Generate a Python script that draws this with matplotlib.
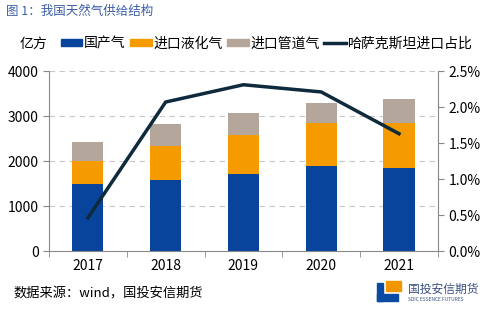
import matplotlib
matplotlib.use("Agg")
import matplotlib.pyplot as plt
from matplotlib.patches import Rectangle, Patch
from matplotlib.lines import Line2D
from matplotlib.ticker import FuncFormatter

plt.rcParams['font.family'] = ['Noto Sans CJK SC', 'DejaVu Sans']

years = ['2017', '2018', '2019', '2020', '2021']
domestic = [1480, 1580, 1720, 1895, 1845]
lng = [520, 760, 850, 945, 1005]
pipeline = [420, 490, 495, 460, 530]
kz_share = [0.46, 2.07, 2.31, 2.21, 1.63]

c_dom = '#08449c'
c_lng = '#f59b00'
c_pipe = '#b4a69b'
c_line = '#0e2a3c'

fig = plt.figure(figsize=(4.97, 3.29), dpi=100)
ax = fig.add_axes([0.0986, 0.237, 0.7824, 0.547])
x = list(range(len(years)))
b1 = [d + l for d, l in zip(domestic, lng)]
ax.bar(x, domestic, width=0.4, color=c_dom, zorder=2)
ax.bar(x, lng, width=0.4, bottom=domestic, color=c_lng, zorder=2)
ax.bar(x, pipeline, width=0.4, bottom=b1, color=c_pipe, zorder=2)

ax.set_xlim(-0.5, 4.5)
ax.set_ylim(0, 4000)
ax.set_yticks([0, 1000, 2000, 3000, 4000])
ax.set_xticks(x)
ax.set_xticklabels(years)
ax.set_xticks([i - 0.5 for i in range(6)], minor=True)
ax.tick_params(axis='x', which='major', length=0, labelsize=10, pad=6)
ax.tick_params(axis='x', which='minor', length=4, color='#888888')
ax.tick_params(axis='y', length=4, color='#888888', labelsize=10)
for y in [1000, 2000, 3000, 4000]:
    ax.axhline(y, color='#c8c8c8', lw=0.8, ls=(0, (5, 4)), zorder=1)
for s in ['top', 'right']:
    ax.spines[s].set_visible(False)
for s in ['left', 'bottom']:
    ax.spines[s].set_color('#888888')

ax2 = ax.twinx()
ax2.plot(x, kz_share, color=c_line, lw=2.5, zorder=3)
ax2.set_ylim(0, 2.5)
ax2.set_yticks([0, 0.5, 1.0, 1.5, 2.0, 2.5])
ax2.yaxis.set_major_formatter(FuncFormatter(lambda v, p: f'{v:.1f}%'))
ax2.tick_params(axis='y', length=4, color='#888888', labelsize=10)
for s in ['top', 'left', 'bottom']:
    ax2.spines[s].set_visible(False)
ax2.spines['right'].set_color('#888888')

handles = [Patch(color=c_dom), Patch(color=c_lng), Patch(color=c_pipe),
           Line2D([], [], color=c_line, lw=2.5)]
labels = ['国产气', '进口液化气', '进口管道气', '哈萨克斯坦进口占比']
fig.legend(handles, labels, loc='center left', bbox_to_anchor=(0.122, 0.868),
           ncol=4, frameon=False, fontsize=10, handlelength=1.55, handleheight=0.45,
           handletextpad=0.15, columnspacing=0.3, borderaxespad=0, borderpad=0)

fig.text(0.04, 0.868, '亿方', fontsize=10, va='center')
fig.text(0.012, 0.965, '图 1：我国天然气供给结构', fontsize=9, color='#3b5ea8', va='center')
fig.text(0.028, 0.105, '数据来源：wind，国投安信期货', fontsize=9.5, va='center')

# logo
fig.patches.append(Rectangle((0.758, 0.085), 0.042, 0.022, transform=fig.transFigure, color='#0b4aa2'))
fig.patches.append(Rectangle((0.758, 0.085), 0.012, 0.055, transform=fig.transFigure, color='#0b4aa2'))
fig.patches.append(Rectangle((0.776, 0.115), 0.030, 0.030, transform=fig.transFigure, color='#f29600'))
fig.text(0.82, 0.122, '国投安信期货', fontsize=8.5, color='#3c4f80', va='center')
fig.text(0.82, 0.090, 'SDIC ESSENCE FUTURES', fontsize=3.5, color='#3c4f80', va='center')

fig.savefig('out.png', dpi=100)
